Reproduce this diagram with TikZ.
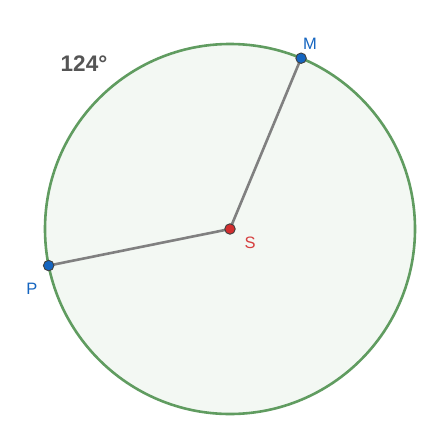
\documentclass[tikz,border=0pt]{standalone}
\usepackage{fontspec}
\setmainfont{Liberation Sans}
\definecolor{circgreen}{RGB}{96,156,96}
\definecolor{circfill}{RGB}{243,248,243}
\definecolor{segray}{RGB}{128,128,128}
\definecolor{ptblue}{RGB}{21,101,192}
\definecolor{ptred}{RGB}{211,47,47}
\definecolor{lblred}{RGB}{214,64,64}
\definecolor{anggray}{RGB}{85,85,85}
\begin{document}
\begin{tikzpicture}[x=1pt,y=-1pt,
  pt/.style={circle,draw=black!75,line width=0.9pt,inner sep=0pt,minimum size=10.5pt},
  lbl/.style={font=\fontsize{16.5}{16.5}\selectfont,inner sep=0pt},
  seg/.style={draw=segray,line width=2.6pt}]
\useasboundingbox (0,0) rectangle (447,442);
\fill[white] (0,0) rectangle (447,442);
\coordinate (S) at (230,229);
\draw[circgreen,fill=circfill,line width=2.6pt] (S) circle[radius=185];
\path (S) ++(67.4:185 and -185) coordinate (M);
\path (S) ++(191.4:185 and -185) coordinate (P);
\draw[seg] (S) -- (M);
\draw[seg] (S) -- (P);
\node[pt,fill=ptblue] (Mn) at (M) {};
\node[pt,fill=ptblue] (Pn) at (P) {};
\node[pt,fill=ptred] (Sn) at (S) {};
\node[lbl,text=ptblue] (Ml) at (310,44) {M};
\node[lbl,text=ptblue] (Pl) at (32,289) {P};
\node[lbl,text=lblred] (Sl) at (250,243) {S};
\node[font=\fontsize{22.5}{22.5}\selectfont\bfseries,text=anggray,inner sep=0pt] (ang) at (84,64) {124°};
\end{tikzpicture}
\end{document}
